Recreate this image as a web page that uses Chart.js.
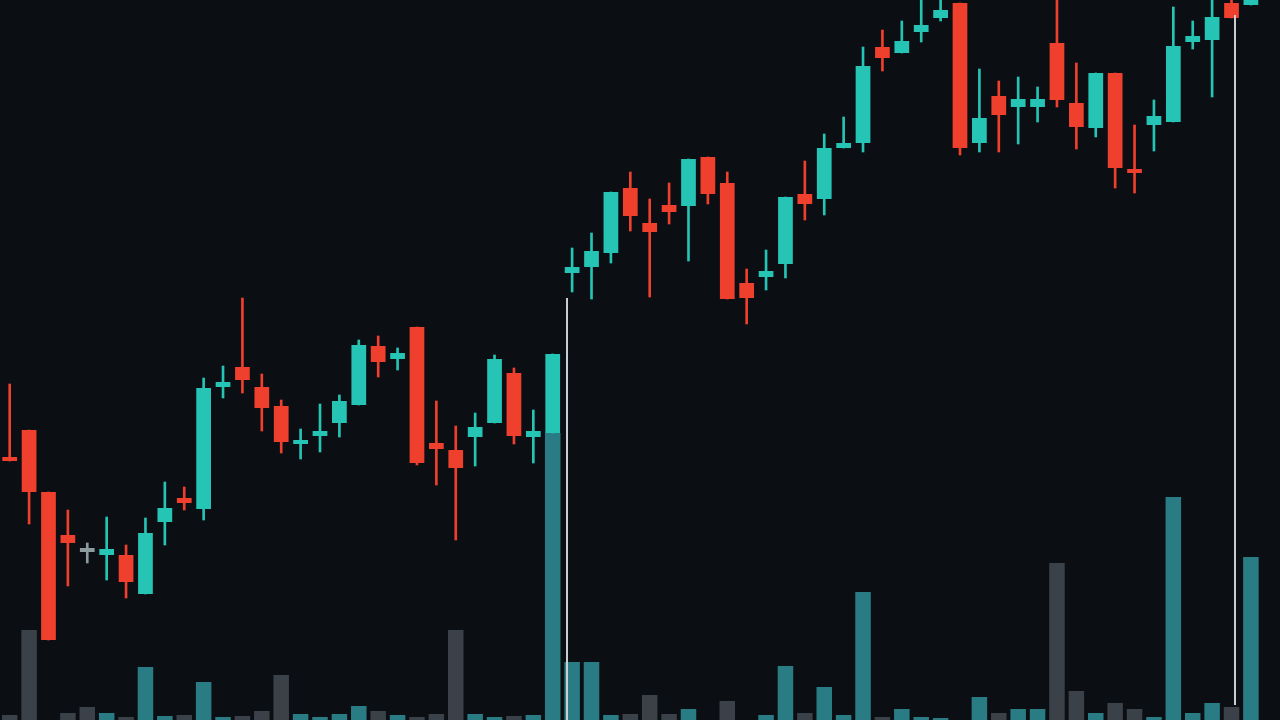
<!DOCTYPE html>
<html>
<head>
<meta charset="utf-8">
<script src="https://cdn.jsdelivr.net/npm/chart.js@4"></script>
<style>
  html, body { margin: 0; padding: 0; background: #0b0e13; }
  .chart-area { width: 1280px; height: 720px; }
</style>
</head>
<body>
<div class="chart-area">
  <canvas id="candles" role="img" aria-label="Candlestick chart with volume bars"></canvas>
</div>
<script>
// One entry per session (last slot is left empty)
const OPEN  = [263, 290, 228, 185, 168, 165, 165, 126, 198, 222, 211, 333, 353, 333, 314, 276, 284, 297, 315, 374, 361, 393, 277, 270, 283, 297, 347, 283, 287, 447, 453, 467, 532, 497, 515, 514, 563, 537, 437, 443, 456, 526, 521, 572, 577, 673, 667, 688, 702, 717, 577, 624, 613, 613, 677, 617, 592, 647, 549, 595, 598, 678, 680, 717, 715, null];
const CLOSE = [259, 228, 80, 177, 168, 171, 138, 187, 212, 217, 332, 338, 340, 312, 278, 279, 289, 319, 375, 358, 367, 257, 271, 252, 293, 361, 284, 289, 366, 453, 469, 528, 504, 488, 508, 561, 526, 421, 422, 449, 523, 516, 572, 577, 654, 662, 679, 695, 710, 572, 602, 605, 621, 621, 620, 593, 647, 552, 547, 604, 674, 684, 703, 702, 730, null];
const HIGH  = [336, 290, 228, 210, 177, 203, 175, 202, 238, 233, 342, 354, 422, 346, 320, 291, 316, 325, 380, 384, 372, 393, 319, 294, 307, 365, 352, 310, 366, 472, 487, 528, 548, 521, 537, 561, 563, 548, 451, 470, 523, 559, 586, 603, 673, 690, 699, 720, 720, 717, 651, 639, 643, 633, 720, 657, 647, 647, 595, 620, 713, 699, 720, 730, 740, null];
const LOW   = [259, 196, 80, 134, 157, 140, 122, 126, 175, 210, 200, 322, 327, 289, 267, 261, 268, 283, 315, 343, 350, 255, 235, 180, 254, 297, 276, 257, 287, 428, 421, 457, 489, 423, 496, 459, 516, 421, 396, 430, 442, 500, 505, 572, 568, 649, 667, 678, 699, 565, 568, 568, 576, 598, 613, 571, 583, 532, 527, 569, 598, 671, 623, 702, 715, null];
const VOLUME = [5, 90, 0, 7, 13, 7, 3, 53, 4, 5, 38, 3, 4, 9, 45, 6, 3, 6, 14, 9, 5, 3, 6, 90, 6, 3, 4, 5, 287, 58, 58, 5, 6, 25, 6, 11, 0, 19, 0, 5, 54, 7, 33, 5, 128, 3, 11, 3, 2, 0, 23, 7, 11, 11, 157, 29, 7, 17, 11, 3, 223, 7, 17, 13, 163, null];

// Crosshair-style markers: session position plus top/bottom price
const MARKER_AT     = [28.75, 63.2];
const MARKER_TOP    = [422, 705];
const MARKER_BOTTOM = [0, 15];

const LABELS = OPEN.map((_, i) => String(i + 1));

const UP   = '#25c4b4';
const DOWN = '#ef3f2d';
const FLAT = '#8c9c9e';
const VOL_UP   = '#2a7c84';
const VOL_DOWN = '#3b4149';

const dir = (i) => {
  if (OPEN[i] === null) return 0;
  return Math.sign(CLOSE[i] - OPEN[i]);
};
const candleColor = (i) => (dir(i) > 0 ? UP : dir(i) < 0 ? DOWN : FLAT);

// Vertical marker lines, placed through the chart's own scales
const markerLines = {
  id: 'markerLines',
  afterDatasetsDraw(chart) {
    const { ctx, scales: { x, y } } = chart;
    ctx.save();
    ctx.strokeStyle = '#c9ced3';
    ctx.lineWidth = 2;
    MARKER_AT.forEach((at, k) => {
      const px = Math.round(x.getPixelForValue(at));
      ctx.beginPath();
      ctx.moveTo(px, y.getPixelForValue(MARKER_TOP[k]));
      ctx.lineTo(px, y.getPixelForValue(MARKER_BOTTOM[k]));
      ctx.stroke();
    });
    ctx.restore();
  },
};

new Chart(document.getElementById('candles'), {
  type: 'bar',
  data: {
    labels: LABELS,
    datasets: [
      {
        // candle bodies
        data: OPEN.map((o, i) => (o === null ? null : [o, CLOSE[i]])),
        backgroundColor: LABELS.map((_, i) => candleColor(i)),
        yAxisID: 'y',
        grouped: false,
        barPercentage: 0.76,
        categoryPercentage: 1,
        minBarLength: 4,
        borderWidth: 0,
        order: 1,
      },
      {
        // wicks
        data: LOW.map((l, i) => (l === null ? null : [l, HIGH[i]])),
        backgroundColor: LABELS.map((_, i) => candleColor(i)),
        yAxisID: 'y',
        grouped: false,
        barThickness: 2,
        borderWidth: 0,
        order: 2,
      },
      {
        // volume, drawn behind the candles
        data: VOLUME,
        backgroundColor: LABELS.map((_, i) => (dir(i) > 0 ? VOL_UP : VOL_DOWN)),
        yAxisID: 'yv',
        grouped: false,
        barPercentage: 0.8,
        categoryPercentage: 1,
        borderWidth: 0,
        order: 3,
      },
    ],
  },
  options: {
    responsive: true,
    maintainAspectRatio: false,
    animation: false,
    layout: { padding: 0 },
    plugins: {
      legend: { display: false },
      tooltip: { enabled: false },
    },
    scales: {
      x:  { display: false, offset: true },
      y:  { display: false, min: 0, max: 720 },
      yv: { display: false, min: 0, max: 720 },
    },
  },
  plugins: [markerLines],
});
</script>
</body>
</html>
